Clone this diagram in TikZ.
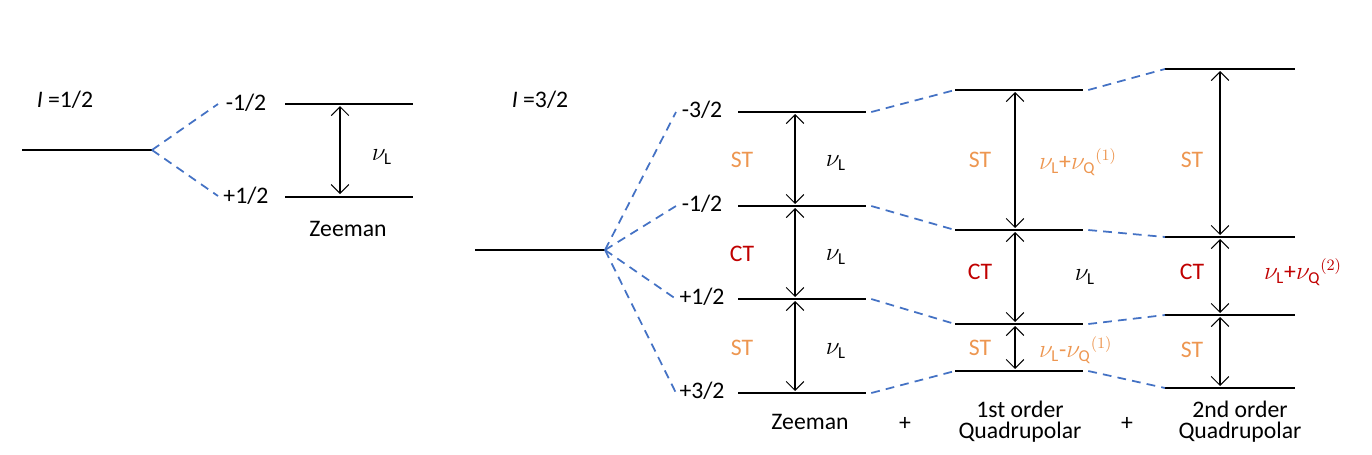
\documentclass[tikz,border=0pt]{standalone}
\usepackage{fontspec}
\setmainfont{Carlito}
\usetikzlibrary{arrows.meta}
\definecolor{dblue}{RGB}{68,114,196}
\definecolor{ora}{RGB}{237,150,80}
\definecolor{dred}{RGB}{192,0,0}
\begin{document}
\begin{tikzpicture}[x=0.02cm,y=-0.02cm,
 lev/.style={line width=1pt},
 dsh/.style={dblue,dashed,line width=1pt,dash pattern=on 5pt off 3.5pt},
 arr/.style={{Straight Barb[length=5pt]}-{Straight Barb[length=5pt]},line width=0.6pt},
 every node/.style={font=\fontsize{13.5}{15}\selectfont,inner sep=1pt},
 st/.style={text=ora}, ct/.style={text=dred}]
\useasboundingbox (0,0) rectangle (1372,454);
% left
\coordinate (L0) at (22,150); \coordinate (L1) at (152,150);
\draw[lev] (L0)--(L1);
\coordinate (la) at (218,104); \coordinate (lb) at (218,196);
\draw[dsh] (L1)--(la); \draw[dsh] (L1)--(lb);
\node (tl) at (65,100) {\textit{I} =1/2};
\node (m12) at (246,103) {-1/2};
\node (p12) at (246,196) {+1/2};
\coordinate (a1) at (285,104); \coordinate (a2) at (413,104);
\coordinate (b1) at (285,197); \coordinate (b2) at (413,197);
\draw[lev] (a1)--(a2); \draw[lev] (b1)--(b2);
\coordinate (aa) at (340,106); \coordinate (ab) at (340,194);
\draw[arr] (aa)--(ab);
\node (nl) at (382,157) {$\nu_{\mathrm{L}}$};
\node (zl) at (348,229) {Zeeman};
% right
\node (tr) at (540,100) {\textit{I} =3/2};
\coordinate (R0) at (475,250); \coordinate (R1) at (605,250);
\draw[lev] (R0)--(R1);
\foreach \y/\t [count=\i] in {112/-3\slash 2,206/-1\slash 2,299/+1\slash 2,393/+3\slash 2}{
  \coordinate (d\i) at (676,\y);
  \draw[dsh] (R1)--(d\i);
  \node (lab\i) at (702,\y-2) {\t};
}
% zeeman levels
\foreach \y [count=\i] in {112,206,299,393}{
  \coordinate (z\i l) at (738,\y); \coordinate (z\i r) at (866,\y);
  \draw[lev] (z\i l)--(z\i r);}
\foreach \y [count=\i] in {90,230,324,371}{
  \coordinate (f\i l) at (955,\y); \coordinate (f\i r) at (1083,\y);
  \draw[lev] (f\i l)--(f\i r);}
\foreach \y [count=\i] in {69,237,315,388}{
  \coordinate (s\i l) at (1165,\y); \coordinate (s\i r) at (1295,\y);
  \draw[lev] (s\i l)--(s\i r);}
\foreach \i in {1,...,4}{
  \draw[dsh] ([xshift=3pt]z\i r)--(f\i l);
  \draw[dsh] ([xshift=3pt]f\i r)--(s\i l);}
% arrows
\foreach \x/\p in {795/z,1015/f,1220/s}{
  \foreach \i/\j in {1/2,2/3,3/4}{
   \coordinate (\p\i a) at (\x,0); 
  }}
\draw[arr] (795,114)--(795,204); \draw[arr] (795,208)--(795,297); \draw[arr] (795,301)--(795,391);
\draw[arr] (1015,92)--(1015,228); \draw[arr] (1015,232)--(1015,322); \draw[arr] (1015,326)--(1015,369);
\draw[arr] (1220,71)--(1220,235); \draw[arr] (1220,239)--(1220,313); \draw[arr] (1220,317)--(1220,386);
% labels
\node[st] (zst1) at (742,160) {ST}; \node[ct] (zct) at (742,254) {CT}; \node[st] (zst2) at (742,348) {ST};
\node (zn1) at (836,163) {$\nu_{\mathrm{L}}$}; \node (zn2) at (836,257) {$\nu_{\mathrm{L}}$}; \node (zn3) at (836,351) {$\nu_{\mathrm{L}}$};
\node[st] (fst1) at (980,160) {ST}; \node[ct] (fct) at (980,272) {CT}; \node[st] (fst2) at (980,348) {ST};
\node[st,anchor=west] (fn1) at (1037,162) {$\nu_{\mathrm{L}}$+$\nu_{\mathrm{Q}}{}^{(1)}$};
\node (fn2) at (1085,277) {$\nu_{\mathrm{L}}$};
\node[st,anchor=west] (fn3) at (1037,350) {$\nu_{\mathrm{L}}$-$\nu_{\mathrm{Q}}{}^{(1)}$};
\node[st] (sst1) at (1192,160) {ST}; \node[ct] (sct) at (1192,272) {CT}; \node[st] (sst2) at (1192,350) {ST};
\node[ct,anchor=west] (sn) at (1262,272) {$\nu_{\mathrm{L}}$+$\nu_{\mathrm{Q}}{}^{(2)}$};
% bottom
\node (bz) at (810,422) {Zeeman};
\node (bp1) at (905,424) {+};
\node[align=center] (b1) at (1020,422) {1st order\\[-3pt]Quadrupolar};
\node (bp2) at (1127,424) {+};
\node[align=center] (b2) at (1240,422) {2nd order\\[-3pt]Quadrupolar};
\end{tikzpicture}
\end{document}
